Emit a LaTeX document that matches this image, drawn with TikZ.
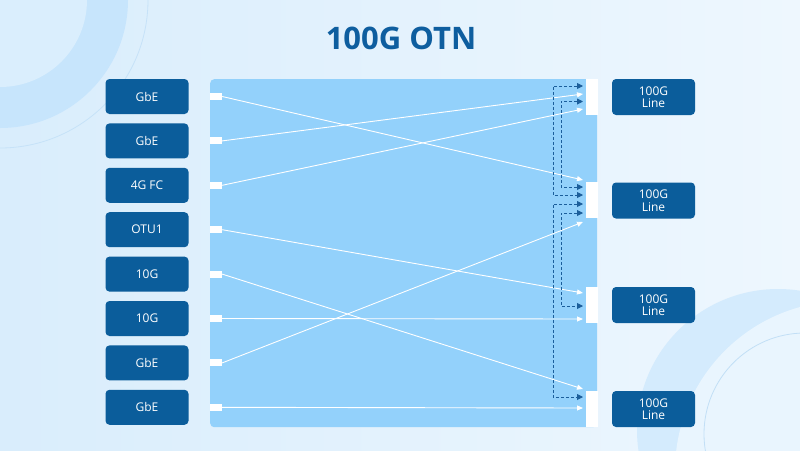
\documentclass[tikz,border=0pt]{standalone}
\usepackage{fontspec}
\setmainfont{Open Sans}
\usetikzlibrary{arrows.meta}
\definecolor{dblue}{HTML}{0B5D9B}
\definecolor{ttl}{HTML}{0E5E9F}
\definecolor{panelc}{HTML}{93D1FB}
\definecolor{dashc}{HTML}{1B5E9B}
\definecolor{bgL}{HTML}{D9EDFC}
\definecolor{bgR}{HTML}{EEF7FE}
\definecolor{ringA}{HTML}{C7E5FC}
\definecolor{diskA}{HTML}{DAEEFD}
\definecolor{thinA}{HTML}{C6E2F8}
\definecolor{ringB}{HTML}{D4EBFD}
\definecolor{diskB}{HTML}{E9F5FE}
\definecolor{thinB}{HTML}{C2DFF6}
\begin{document}
\begin{tikzpicture}[x=1pt,y=-1pt,
  box/.style={fill=dblue, rounded corners=4pt, minimum width=83pt, minimum height=35pt, inner sep=0pt, text=white, font=\fontsize{12}{12.5}\selectfont, align=center},
  lport/.style={fill=white, minimum width=12pt, minimum height=7pt, inner sep=0pt},
  rport/.style={fill=white, minimum width=12pt, minimum height=36pt, inner sep=0pt},
  wire/.style={white, line width=0.9pt, -{Triangle[length=6pt,width=5pt]}},
  dwire/.style={dashc, line width=0.9pt, dash pattern=on 3pt off 2pt, {Triangle[length=6pt,width=6pt]}-{Triangle[length=6pt,width=6pt]}}]
\useasboundingbox (0,0) rectangle (800,450);
\shade[left color=bgL, right color=bgR] (0,0) rectangle (800,450);
\begin{scope}
  \clip (0,0) rectangle (800,450);
  \fill[ringA] (0,0) circle (128pt);
  \fill[diskA] (0,0) circle (87pt);
  \draw[thinA, line width=0.8pt] (0,0) circle (148pt);
  \fill[ringB] (778,430) circle (141pt);
  \fill[diskB] (845,471) circle (170pt);
  \draw[thinB, line width=0.8pt] (805,434) circle (101pt);
\end{scope}

\node[text=ttl, font=\fontsize{31}{36}\selectfont\bfseries] (title) at (401,38) {100G OTN};

\node[fill=panelc, rounded corners=4pt, minimum width=387pt, minimum height=348pt, inner sep=0pt, anchor=north west] (panel) at (210,79) {};

% left boxes and ports
\foreach \i/\t in {1/GbE,2/GbE,3/4G FC,4/OTU1,5/10G,6/10G,7/GbE,8/GbE}{
  \node[box] (B\i) at (147,{96.5+44.4*(\i-1)}) {\t};
  \node[lport] (L\i) at (216,{96.5+44.4*(\i-1)}) {};
}

% right ports and boxes
\node[rport] (R1) at (591.5,97) {};
\node[rport] (R2) at (591.5,200) {};
\node[rport] (R3) at (591.5,304.7) {};
\node[rport] (R4) at (591.5,408.7) {};
\node[box, minimum height=36pt] (O1) at (653.5,97) {100G\\Line};
\node[box, minimum height=36pt] (O2) at (653.5,200.5) {100G\\Line};
\node[box, minimum height=36pt] (O3) at (653.5,305) {100G\\Line};
\node[box, minimum height=36pt] (O4) at (653.5,409) {100G\\Line};

% white connector targets
\coordinate (t1) at (583,180);
\coordinate (t2) at (583,94);
\coordinate (t3) at (583,109);
\coordinate (t4) at (583,293);
\coordinate (t5) at (583,389);
\coordinate (t6) at (583,319);
\coordinate (t7) at (583,222);
\coordinate (t8) at (583,408);
\foreach \i in {1,...,8}{
  \draw[wire] (L\i.east) -- (t\i);
}

% dashed cross-connect loops
\coordinate (xa) at (553,0);
\coordinate (xb) at (561,0);
\coordinate (da1) at (583,86);
\coordinate (da2) at (583,195);
\coordinate (db1) at (583,101.5);
\coordinate (db2) at (583,187);
\coordinate (dc1) at (583,204);
\coordinate (dc2) at (583,397);
\coordinate (dd1) at (583,213);
\coordinate (dd2) at (583,306);
\draw[dwire] (da1) -- (da1 -| xa) -- (da2 -| xa) -- (da2);
\draw[dwire] (db1) -- (db1 -| xb) -- (db2 -| xb) -- (db2);
\draw[dwire] (dc1) -- (dc1 -| xa) -- (dc2 -| xa) -- (dc2);
\draw[dwire] (dd1) -- (dd1 -| xb) -- (dd2 -| xb) -- (dd2);
\end{tikzpicture}
\end{document}
